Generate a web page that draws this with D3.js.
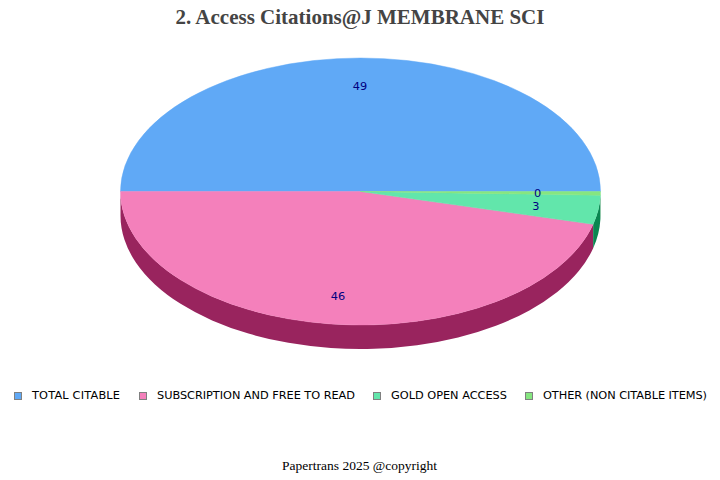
<!DOCTYPE html>
<html>
<head>
<meta charset="utf-8">
<style>
    html, body { margin: 0; padding: 0; background: #fff; }
    svg { display: block; }
</style>
<script src="https://cdnjs.cloudflare.com/ajax/libs/d3/7.8.5/d3.min.js"></script>
</head>
<body>
<script>
var categories = [ "TOTAL CITABLE", "SUBSCRIPTION AND FREE TO READ", "GOLD OPEN ACCESS", "OTHER (NON CITABLE ITEMS)" ];
var values = [ 49.4, 45.5, 3.45, 0.45 ];
var topColors = [ "#60a9f6", "#f480bb", "#62e6ab", "#86e680" ];
var sideColors = [ "#2a6cb0", "#99245e", "#0a8650", "#3f9a3a" ];

var width = 720, height = 480;
var cx = 360.5, cy = 191.5, rx = 240, ry = 133.5, depth = 24;
var legendX = [ 14, 139, 373, 525 ], legendWidths = [ 88, 198, 116, 164 ];

var svg = d3.select( "body" ).append( "svg" )
    .attr( "width", width )
    .attr( "height", height );

// anticlockwise from 3 o'clock
var slices = d3.pie().sort( null )
    .startAngle( Math.PI / 2 )
    .endAngle( Math.PI / 2 - 2 * Math.PI )( values );

var arc = d3.arc().innerRadius( 0 ).outerRadius( rx );

function px( a, k ) {
    return cx + rx * k * Math.sin( a );
}

function py( a, k ) {
    return cy - ry * k * Math.cos( a );
}

function drawWalls() {
    svg.append( "g" ).attr( "class", "walls" )
        .selectAll( "path" )
        .data( slices.filter( function( d ) { return d.index > 0; } ) )
        .enter().append( "path" )
        .attr( "fill", function( d ) { return sideColors[ d.index ]; } )
        .attr( "d", function( d ) {
            var a0 = d.startAngle, a1 = d.endAngle;
            return "M" + px( a0, 1 ) + "," + py( a0, 1 ) +
                "A" + rx + "," + ry + " 0 0 0 " + px( a1, 1 ) + "," + py( a1, 1 ) +
                "L" + px( a1, 1 ) + "," + ( py( a1, 1 ) + depth ) +
                "A" + rx + "," + ry + " 0 0 1 " + px( a0, 1 ) + "," + ( py( a0, 1 ) + depth ) + "Z";
        });
}

function drawTops() {
    svg.append( "g" ).attr( "class", "tops" )
        .attr( "transform", "translate(" + cx + "," + cy + ") scale(1," + ( ry / rx ) + ")" )
        .selectAll( "path" )
        .data( slices )
        .enter().append( "path" )
        .attr( "fill", function( d ) { return topColors[ d.index ]; } )
        .attr( "stroke", function( d ) { return topColors[ d.index ]; } )
        .attr( "stroke-width", 0.6 )
        .attr( "d", arc );
}

function drawLabels() {
    svg.append( "g" ).attr( "class", "labels" )
        .selectAll( "text" )
        .data( slices )
        .enter().append( "text" )
        .attr( "x", function( d ) { return px( ( d.startAngle + d.endAngle ) / 2, 0.74 ) - 0.5; } )
        .attr( "y", function( d ) { return py( ( d.startAngle + d.endAngle ) / 2, 0.79 ) + 4; } )
        .attr( "text-anchor", "middle" )
        .attr( "font-family", "DejaVu Sans" )
        .attr( "font-size", 11.33 )
        .attr( "fill", "#000080" )
        .text( function( d ) { return Math.round( d.value ); } );
}

function drawLegend() {
    var legend = svg.append( "g" ).attr( "class", "legend" );

    categories.forEach( function( name, i ) {
        legend.append( "rect" )
            .attr( "x", legendX[ i ] + 0.5 ).attr( "y", 392.5 )
            .attr( "width", 7 ).attr( "height", 7 )
            .attr( "fill", topColors[ i ] )
            .attr( "stroke", "#808080" );

        legend.append( "text" )
            .attr( "x", legendX[ i ] + 18 ).attr( "y", 399 )
            .attr( "font-family", "DejaVu Sans" )
            .attr( "font-size", 11.33 )
            .attr( "textLength", legendWidths[ i ] )
            .attr( "fill", "#000" )
            .text( name );
    });
}

function drawTitles() {
    svg.append( "text" )
        .attr( "x", 360 ).attr( "y", 24 )
        .attr( "text-anchor", "middle" )
        .attr( "font-family", "Liberation Serif" )
        .attr( "font-weight", "bold" )
        .attr( "font-size", 21 )
        .attr( "fill", "#444" )
        .text( "2. Access Citations@J MEMBRANE SCI" );

    svg.append( "text" )
        .attr( "x", 359.5 ).attr( "y", 470 )
        .attr( "text-anchor", "middle" )
        .attr( "font-family", "Liberation Serif" )
        .attr( "font-size", 13.5 )
        .attr( "fill", "#000" )
        .text( "Papertrans 2025 @copyright" );
}

drawWalls();
drawTops();
drawLabels();
drawLegend();
drawTitles();
</script>
</body>
</html>
